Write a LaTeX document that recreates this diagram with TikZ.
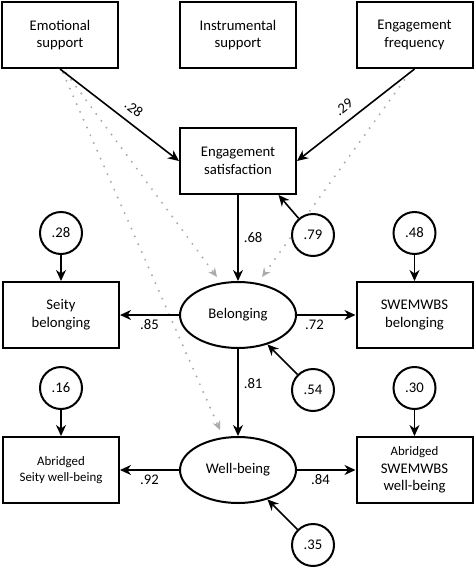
\documentclass[tikz,border=0pt]{standalone}
\usepackage{fontspec}
\setmainfont{Carlito}
\usetikzlibrary{positioning,arrows.meta,shapes.geometric,backgrounds}
\definecolor{nsC}{HTML}{ABABAB}
\newcommand{\mainfs}{\fontsize{14.7}{17.7}\selectfont}
\newcommand{\smallfs}{\fontsize{12.9}{16.7}\selectfont}
\tikzset{
  obs/.style={draw, line width=2pt, align=center, font=\mainfs,
              minimum width=116pt, minimum height=66pt, inner sep=2pt},
  lat/.style={draw, ellipse, line width=2pt, font=\mainfs,
              minimum width=116pt, minimum height=66pt},
  err/.style={draw, circle, line width=2pt, font=\mainfs, fill=white,
              minimum size=42pt, inner sep=0pt},
  eff/.style={-{Stealth[length=11pt,width=10pt,inset=3.5pt]}, line width=1.6pt},
  nsig/.style={-{Stealth[length=9pt,width=8pt,inset=3pt,line cap=butt]}, nsC,
               line width=2.2pt, dash pattern=on 0pt off 8.5pt, line cap=round},
  coef/.style={font=\mainfs, inner sep=2pt},
}

\begin{document}
\begin{tikzpicture}[x=1pt,y=-1pt]
\useasboundingbox (0,0) rectangle (474,568);
% predictors
\node[obs] (emot) at (60,35) {Emotional\\support};
\node[obs] (instr) at (238,35) {Instrumental\\support};
\node[obs] (freq) at (414.5,35) {Engagement\\frequency};
\node[obs] (esat) at (238,161) {Engagement\\satisfaction};
% latent variables
\node[lat] (belong) at (238,315) {Belonging};
\node[lat] (wellb) at (238,470) {Well-being};
% indicators
\node[obs] (sbel) at (61,315) {Seity\\belonging};
\node[obs] (swbel) at (414.5,315) {SWEMWBS\\belonging};
\node[obs, font=\smallfs] (swell) at (61,470) {Abridged\\Seity well-being};
\node[obs] (swwell) at (414.5,470) {{\smallfs Abridged}\\SWEMWBS\\well-being};
% residuals
\node[err, above=26pt of sbel] (e28) {.28};
\node[err, above=26pt of swbel] (e48) {.48};
\node[err, above=26pt of swell] (e16) {.16};
\node[err, above=26pt of swwell] (e30) {.30};
\node[err] (e79) at (313,235) {.79};
\node[err] (e54) at (313,390) {.54};
\node[err] (e35) at (313,545) {.35};

% non-significant paths
\begin{scope}[on background layer]
\draw[nsig] ([xshift=6pt,yshift=-4pt]emot.south) -- ([xshift=-21pt,yshift=4pt]belong.north);
\draw[nsig] ([xshift=3pt,yshift=-4pt]emot.south) -- ([xshift=-18pt,yshift=6pt]wellb.north);
\draw[nsig] ([xshift=-5pt,yshift=-4pt]freq.south) -- ([xshift=24pt,yshift=4pt]belong.north);
\end{scope}

% structural paths
\draw[eff] (emot.south) -- node[coef, sloped, above=6pt, pos=0.55] {.28} (esat.west);
\draw[eff] (freq.south) -- node[coef, sloped, above=6pt, pos=0.53] {.29} (esat.east);
\draw[eff] (esat.south) -- node[coef, right=3pt] {.68} (belong.north);
\draw[eff] (belong.south) -- node[coef, right=3pt, pos=0.4] {.81} (wellb.north);
% loadings
\draw[eff] (belong.west) -- node[coef, below=2pt, pos=0.5] {.85} (sbel.east);
\draw[eff] (belong.east) -- node[coef, below=2pt, pos=0.3] {.72} (swbel.west);
\draw[eff] (wellb.west) -- node[coef, below=2pt, pos=0.5] {.92} (swell.east);
\draw[eff] (wellb.east) -- node[coef, below=2pt, pos=0.4] {.84} (swwell.west);
% residual arrows
\draw[eff] (e28) -- (sbel);
\draw[eff] (e48) -- (swbel);
\draw[eff] (e16) -- (swell);
\draw[eff] (e30) -- (swwell);
\draw[eff] (e79) -- (esat.-40);
\draw[eff] (e54) -- (belong.-45);
\draw[eff] (e35) -- (wellb.-45);
\end{tikzpicture}
\end{document}
